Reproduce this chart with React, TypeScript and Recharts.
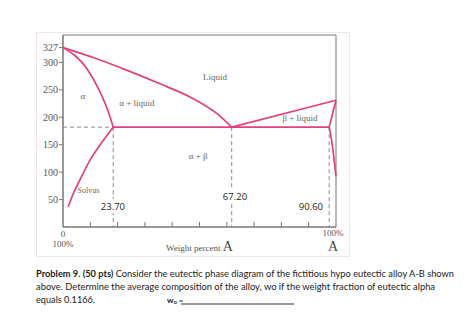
import { LineChart, Line, XAxis, YAxis, ReferenceDot, ReferenceArea, Label } from "recharts"

// phase boundaries, x = weight percent (position on the axis), t = temperature
const liquidusLeft = [
  { x: 0, t: 327 },
  { x: 11, t: 309 },
  { x: 23.3, t: 286 },
  { x: 35.5, t: 261 },
  { x: 47.7, t: 234 },
  { x: 56.3, t: 207 },
  { x: 61.8, t: 182 },
]
const solidusLeft = [
  { x: 0, t: 327 },
  { x: 8.7, t: 289 },
  { x: 13.6, t: 246 },
  { x: 16.6, t: 210 },
  { x: 18.4, t: 182 },
]
const solvusLeft = [
  { x: 18.4, t: 182 },
  { x: 14.8, t: 158 },
  { x: 9.9, t: 122 },
  { x: 6.2, t: 86 },
  { x: 3.8, t: 61 },
  { x: 1.9, t: 37 },
]
const eutecticLine = [
  { x: 18.4, t: 182 },
  { x: 97.5, t: 182 },
]
const liquidusRight = [
  { x: 61.8, t: 182 },
  { x: 100, t: 231 },
]
const solidusRight = [
  { x: 97.5, t: 182 },
  { x: 100, t: 231 },
]
const solvusRight = [
  { x: 97.5, t: 182 },
  { x: 98.4, t: 158 },
  { x: 100, t: 92 },
]
const dashedGuides = [
  [{ x: 0, t: 182 }, { x: 18.4, t: 182 }],
  [{ x: 18.4, t: 182 }, { x: 18.4, t: 0 }],
  [{ x: 61.8, t: 182 }, { x: 61.8, t: 0 }],
  [{ x: 97.5, t: 182 }, { x: 97.5, t: 0 }],
]

const yTicks = [50, 100, 150, 200, 250, 300, 327]
const xTicks = [0, 10, 20, 30, 40, 50, 60, 70, 80, 90, 100]

const regionLabels = [
  { x: 55.7, t: 273, text: "Liquid", italic: false },
  { x: 7.3, t: 239, text: "α", italic: true },
  { x: 27.1, t: 226, text: "α + liquid", italic: false },
  { x: 86.8, t: 199, text: "β + liquid", italic: false },
  { x: 49.5, t: 129, text: "α + β", italic: false },
  { x: 9.3, t: 67, text: "Solvus", italic: false },
]
const valueLabels = [
  { x: 18.3, t: 38, text: "23.70" },
  { x: 63, t: 55, text: "67.20" },
  { x: 90.8, t: 38, text: "90.60" },
]

const PINK = "#e2407f"
const AXIS = "#777"
const SERIF = "'Liberation Serif', 'DejaVu Serif', serif"

const XTick = ({ x, y, payload }: any) => {
  const v = payload.value
  return (
    <g>
      {v > 0 && v < 100 && <line x1={x} x2={x} y1={y} y2={y - 5} stroke={AXIS} />}
      {v === 0 && (
        <>
          <text x={x} y={y + 10} textAnchor="middle" fontSize={9} fontFamily={SERIF} fill="#555">0</text>
          <text x={x} y={y + 20} textAnchor="middle" fontSize={9} fontFamily={SERIF} fill="#555">100%</text>
        </>
      )}
      {v === 100 && (
        <>
          <text x={x - 3} y={y + 9} textAnchor="middle" fontSize={9} fontFamily={SERIF} fill="#555">100%</text>
          <text x={x - 3} y={y + 24} textAnchor="middle" fontSize={14} fontFamily={SERIF} fill="#444">A</text>
        </>
      )}
    </g>
  )
}

const AxisTitle = ({ viewBox }: any) => (
  <text x={viewBox.x + viewBox.width / 2} y={viewBox.y + 24} textAnchor="middle" fontFamily={SERIF} fill="#555">
    <tspan fontSize={9}>Weight percent </tspan>
    <tspan fontSize={14} fill="#444">A</tspan>
  </text>
)

// value label with a white patch so the dashed guide breaks behind it
const ValueLabel = ({ viewBox, value }: any) => {
  const cx = viewBox.x + viewBox.width / 2
  const cy = viewBox.y + viewBox.height / 2
  return (
    <g>
      <rect x={cx - 12} y={cy - 7} width={24} height={14} fill="#fff" />
      <text x={cx} y={cy + 3.5} textAnchor="middle" fontSize={9.5} fontFamily="'Open Sans', sans-serif" fill="#222">
        {value}
      </text>
    </g>
  )
}

export default function App() {
  return (
    <div style={{ position: "absolute", left: 0, top: 0, width: 474, height: 334, background: "#fff" }}>
      <div
        style={{
          position: "absolute",
          left: 36,
          top: 32,
          width: 312,
          height: 223,
          border: "1px solid #f1e6e6",
        }}
      />
      <div style={{ position: "absolute", left: 0, top: 0 }}>
        <LineChart width={474} height={260} margin={{ top: 35, right: 138, left: 33, bottom: 0 }}>
          <XAxis
            type="number"
            dataKey="x"
            domain={[0, 100]}
            ticks={xTicks}
            interval={0}
            height={33}
            tickSize={0}
            tickMargin={0}
            tickLine={false}
            axisLine={{ stroke: AXIS }}
            tick={<XTick />}
          >
            <Label content={<AxisTitle />} />
          </XAxis>
          <YAxis
            type="number"
            dataKey="t"
            domain={[0, 350]}
            ticks={yTicks}
            interval={0}
            width={30}
            tickSize={4}
            tickMargin={1}
            tickLine={{ stroke: AXIS }}
            axisLine={{ stroke: AXIS }}
            tick={{ fontSize: 10, fontFamily: SERIF, fill: "#555" }}
          />
          <ReferenceArea x1={0} x2={100} y1={0} y2={350} fill="none" stroke={AXIS} strokeWidth={1} />

          {dashedGuides.map((seg, i) => (
            <Line
              key={"g" + i}
              data={seg}
              dataKey="t"
              type="linear"
              stroke="#8a8a8a"
              strokeWidth={1}
              strokeDasharray="4 3"
              dot={false}
              activeDot={false}
              isAnimationActive={false}
            />
          ))}

          {[liquidusLeft, solidusLeft, solvusLeft, solvusRight].map((d, i) => (
            <Line
              key={"c" + i}
              data={d}
              dataKey="t"
              type="monotone"
              stroke={PINK}
              strokeWidth={1.7}
              dot={false}
              activeDot={false}
              isAnimationActive={false}
            />
          ))}
          {[eutecticLine, liquidusRight, solidusRight].map((d, i) => (
            <Line
              key={"s" + i}
              data={d}
              dataKey="t"
              type="linear"
              stroke={PINK}
              strokeWidth={1.7}
              dot={false}
              activeDot={false}
              isAnimationActive={false}
            />
          ))}

          {regionLabels.map((l) => (
            <ReferenceDot
              key={l.text}
              x={l.x}
              y={l.t}
              r={0}
              fill="none"
              stroke="none"
              label={{
                value: l.text,
                position: "center",
                fontSize: l.text === "Solvus" ? 8 : 9,
                fontFamily: SERIF,
                fontStyle: l.italic ? "italic" : "normal",
                fill: "#666",
              }}
            />
          ))}
          {valueLabels.map((l) => (
            <ReferenceDot
              key={l.text}
              x={l.x}
              y={l.t}
              r={0}
              fill="none"
              stroke="none"
              label={<ValueLabel value={l.text} />}
            />
          ))}
        </LineChart>
      </div>
      <svg width={474} height={334} style={{ position: "absolute", left: 0, top: 0 }}>
        <g fontFamily="Lato, 'Noto Sans', sans-serif" fontSize={9} fill="#1a1a1a">
          <text x={36} y={277} textLength={418} lengthAdjust="spacingAndGlyphs">
            <tspan fontWeight="bold">Problem 9. (50 pts)</tspan>
            <tspan> Consider the eutectic phase diagram of the fictitious hypo eutectic alloy A-B shown</tspan>
          </text>
          <text x={36} y={290} textLength={399} lengthAdjust="spacingAndGlyphs">
            above. Determine the average composition of the alloy, wo if the weight fraction of eutectic alpha
          </text>
          <text x={36} y={303} textLength={59} lengthAdjust="spacingAndGlyphs">
            equals 0.1166.
          </text>
          <text x={167} y={303} fontWeight="bold" fontSize={8}>
            w<tspan fontSize={6} dy={1}>o</tspan>
            <tspan dy={-1}> =</tspan>
          </text>
        </g>
        <line x1={181} x2={294} y1={304} y2={304} stroke="#333" strokeWidth={1} />
      </svg>
    </div>
  )
}
